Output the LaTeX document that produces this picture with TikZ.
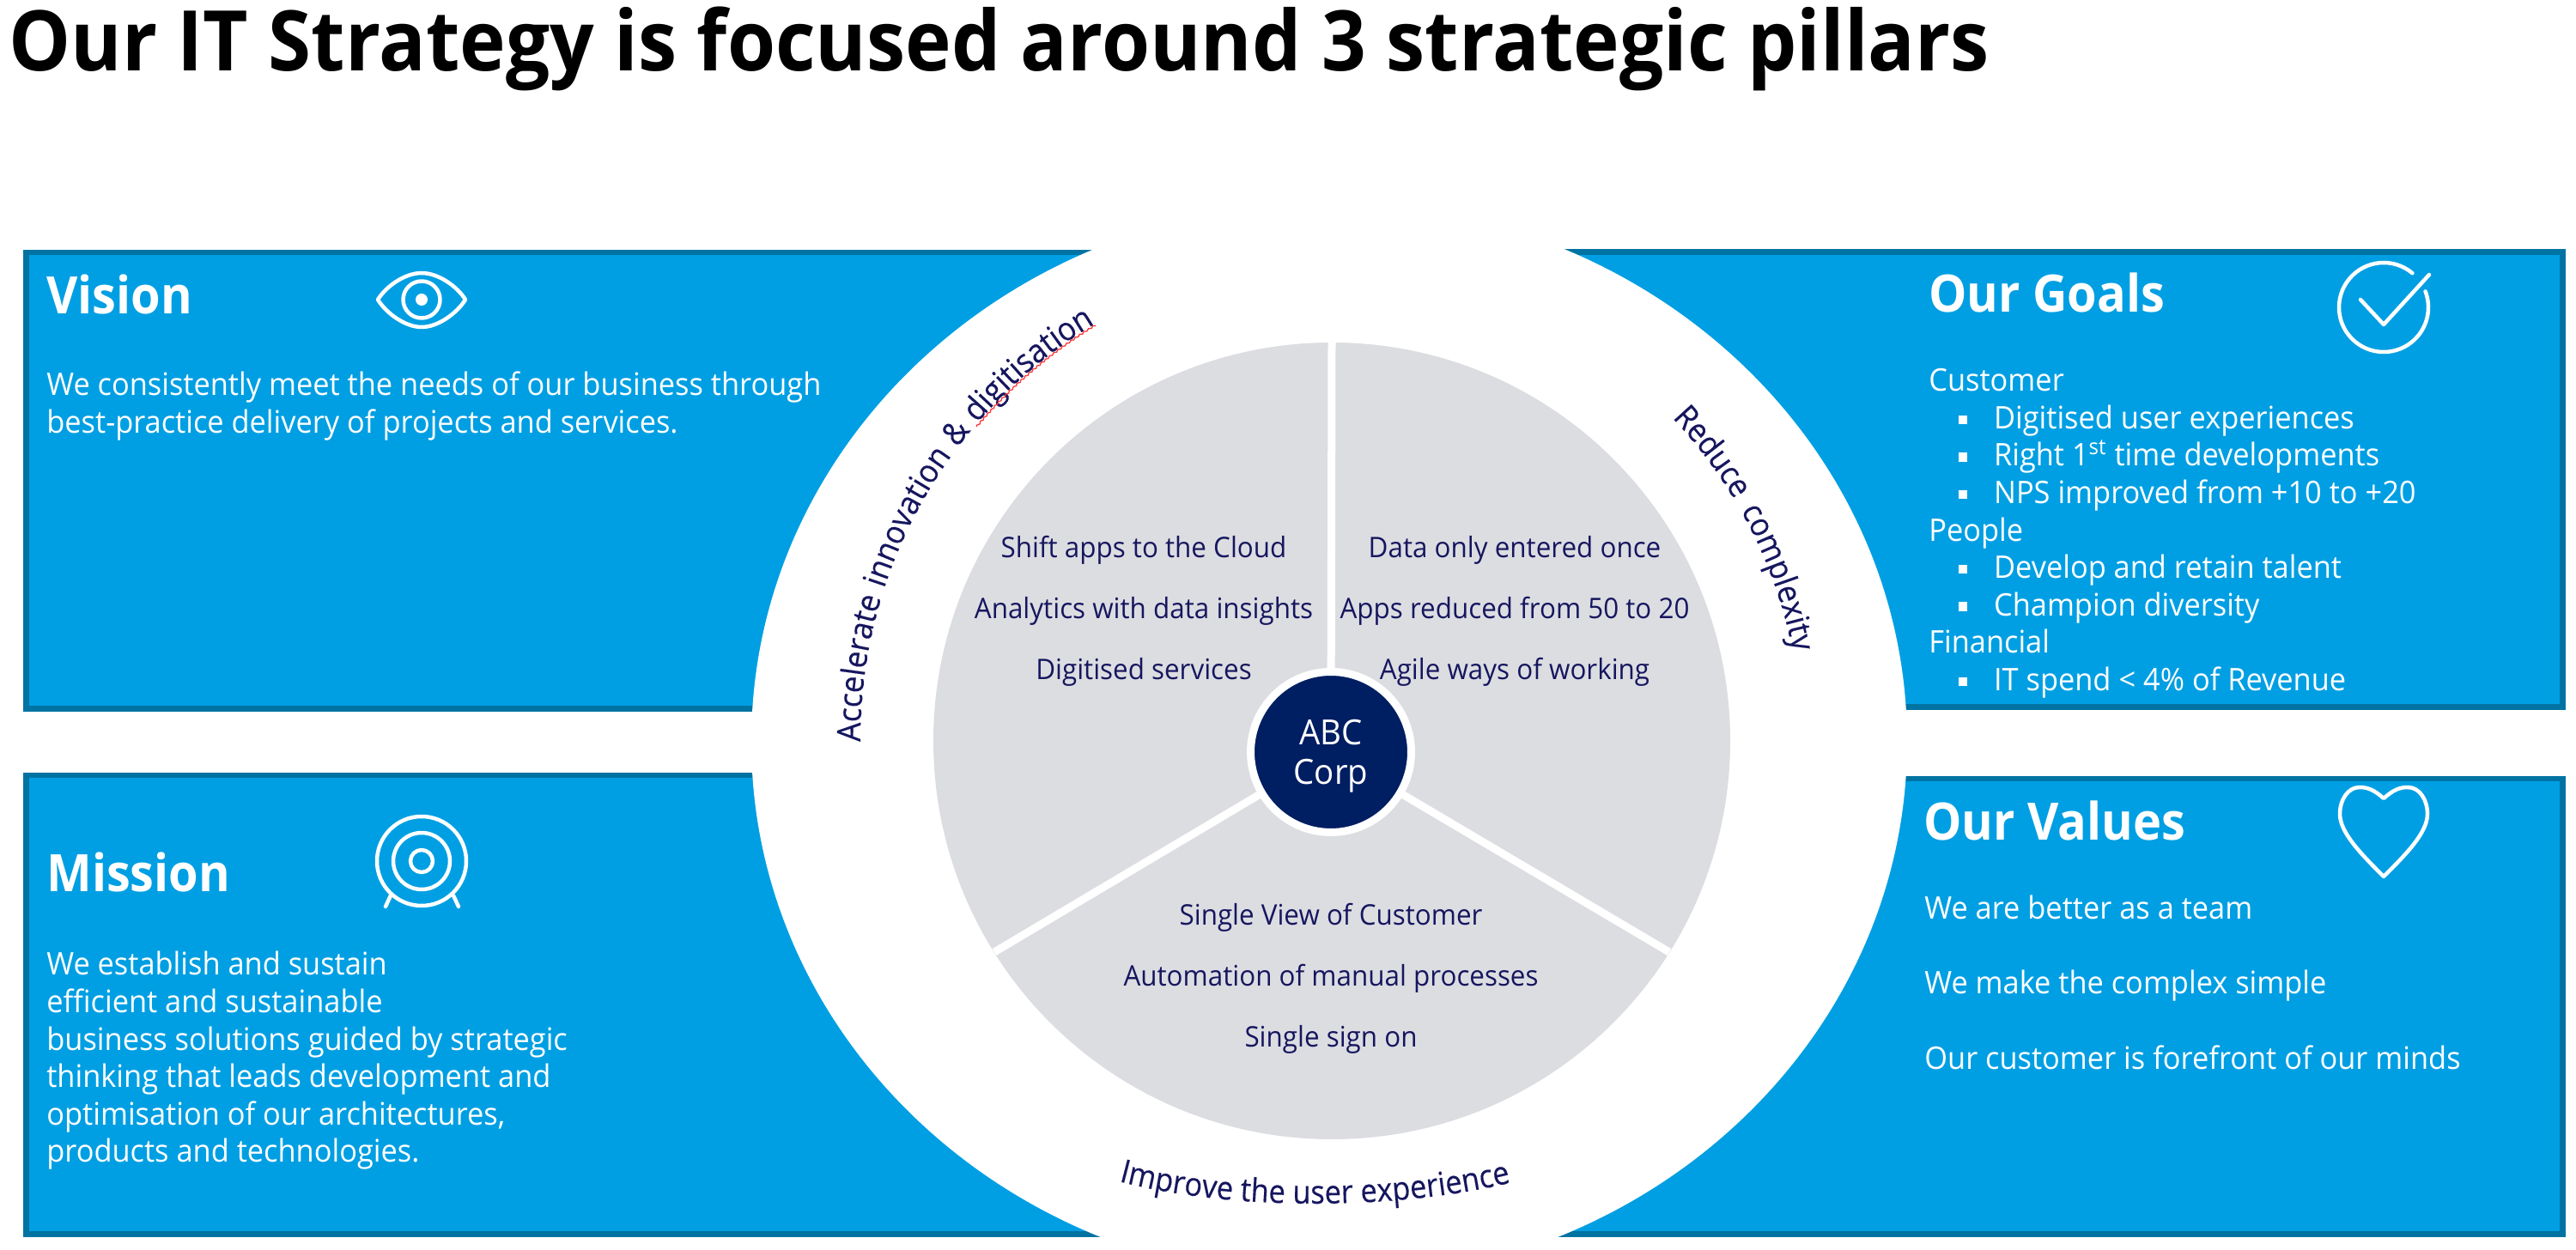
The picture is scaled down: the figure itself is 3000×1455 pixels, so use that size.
\documentclass[tikz,border=0pt]{standalone}
\usepackage{fontspec}
\usetikzlibrary{decorations.text,decorations.pathmorphing}
\setmainfont{Open Sans}
\newfontfamily\bodyf[FakeStretch=0.95]{Open Sans}
\newfontfamily\headf[FakeStretch=0.93]{Open Sans}
\newfontfamily\arcA[FakeStretch=0.93,FakeBold=0.3]{Open Sans}
\newfontfamily\arcB[FakeStretch=0.92,FakeBold=0.3]{Open Sans}
\newfontfamily\arcC[FakeStretch=0.91,FakeBold=0.3]{Open Sans}
\definecolor{boxblue}{HTML}{009FE3}
\definecolor{boxedge}{HTML}{0073A3}
\definecolor{piegrey}{HTML}{DCDDE1}
\definecolor{hubnavy}{HTML}{001E62}
\definecolor{inknavy}{HTML}{16165F}
\newcommand{\sqb}{\hspace*{19.8pt}\raisebox{3pt}{\rule{5.7pt}{6pt}}\hspace*{17.6pt}}
\tikzset{
  panel/.style={fill=boxblue,draw=boxedge,line width=0.13cm},
  icon/.style={draw=white,line width=0.09cm,line cap=round,line join=round},
  bodytext/.style={inner sep=0pt,anchor=north west,align=left,text=white,font=\bodyf\fontsize{20.6}{24.8}\selectfont},
  headtext/.style={inner sep=0pt,anchor=base west,text=white,font=\headf\bfseries\fontsize{34.2}{38}\selectfont},
  pietext/.style={inner sep=0pt,anchor=north,align=center,text=inknavy,font=\bodyf\fontsize{18.8}{40.6}\selectfont},
  divider/.style={draw=white,line width=0.18cm},
  arclabel/.style 2 args={decorate,decoration={text along path,text align={fit to path stretching spaces},
     text={|#1\fontsize{21.5}{24}\selectfont\color{inknavy}|#2}}}
}
\begin{document}
\begin{tikzpicture}[x=0.02cm,y=0.02cm]
\clip (0,0) rectangle (3000,1455);
\fill[white] (0,0) rectangle (3000,1455);
% panels
\draw[panel] (30.5,1161) rectangle (1500,629.5);
\draw[panel] (1600,1161.5) rectangle (2984.5,631.5);
\draw[panel] (30.5,552) rectangle (1500,17.5);
\draw[panel] (1600,548) rectangle (2984.5,17.5);
% central disc
\fill[white] (1548,591) ellipse [x radius=673,y radius=628];
\fill[piegrey] (1551,592) circle (464);
\node[circle,minimum size=3.74cm,inner sep=0pt,fill=hubnavy,draw=white,line width=0.18cm,text=white,align=center,
      font=\bodyf\fontsize{23}{26}\selectfont] (hub) at (1550,579) {\rule{0pt}{22pt}ABC\\Corp};
\coordinate (dtop) at (1551,1056);
\coordinate (dleft) at (1158,346);
\coordinate (dright) at (1944,346);
\draw[divider] (dtop) -- (hub);
\draw[divider] (dleft) -- (hub);
\draw[divider] (dright) -- (hub);
% title
\node[inner sep=0pt,anchor=base west,text=black,font=\headf\bfseries\fontsize{55.5}{60}\selectfont] (title) at (10,1372)
  {Our IT Strategy is focused around 3 strategic pillars};
% headings
\node[headtext] (vision) at (54,1089) {Vision};
\node[headtext] (mission) at (54,417) {Mission};
\node[headtext] (goals) at (2246,1091) {Our Goals};
\node[headtext] (values) at (2240,476) {Our Values};
% bodies
\node[bodytext] (visiontext) at (54,1025) {\strut We consistently meet the needs of our business through\\best-practice delivery of projects and services.};
\node[bodytext] (missiontext) at (54,350) {\strut We establish and sustain\\efficient and sustainable\\business solutions guided by strategic\\thinking that leads development and\\optimisation of our architectures,\\products and technologies.};
\node[bodytext] (goalstext) at (2246,1030) {\strut Customer\\
\sqb Digitised user experiences\\
\sqb Right 1\textsuperscript{st} time developments\\
\sqb NPS improved from +10 to +20\\
People\\
\sqb Develop and retain talent\\
\sqb Champion diversity\\
Financial\\
\sqb IT spend < 4\% of Revenue};
\node[bodytext] (valuestext) at (2241,415) {\strut We are better as a team\\[24.8pt]We make the complex simple\\[24.8pt]Our customer is forefront of our minds};
% pie texts
\node[pietext] (pieleft) at (1332,856) {\strut Shift apps to the Cloud\\Analytics with data insights\\Digitised services};
\node[pietext] (pieright) at (1764,856) {\strut Data only entered once\\Apps reduced from 50 to 20\\Agile ways of working};
\node[pietext] (piebottom) at (1550,428) {\strut Single View of Customer\\Automation of manual processes\\Single sign on};
% curved labels
\path[arclabel={\arcA}{Accelerate innovation {\&} digitisation}] (1565,595) ++(180.4:563) arc[start angle=180.4,end angle=121,radius=563];
\draw[red!80!white,line width=0.025cm,decorate,decoration={snake,amplitude=0.5pt,segment length=3.5pt}] (1565,595) ++(139.7:561) arc[start angle=139.7,end angle=121,radius=561];
\path[arclabel={\arcB}{Reduce complexity}] (1550,591) ++(43.5:548) arc[start angle=43.5,end angle=11,radius=548];
\path[arclabel={\arcC}{Improve the user experience}] (1303,79) .. controls (1430,45) and (1620,45) .. (1753,76);
% eye icon
\draw[icon] (440,1106) .. controls (450,1122) and (472,1137) .. (491,1137) .. controls (510,1137) and (532,1122) .. (542,1106) .. controls (532,1090) and (510,1074) .. (491,1074) .. controls (472,1074) and (450,1090) .. cycle;
\draw[icon] (491,1106) circle (21.5);
\fill[white] (491,1106) circle (7);
% target icon
\draw[icon] (491,452) circle (52);
\draw[icon] (491,452) circle (33);
\draw[icon] (491,452) circle (13);
\draw[icon] (455,412) -- (449,399);
\draw[icon] (528,412) -- (534,399);
% tick icon
\draw[icon] (2776,1097) ++(50:52) arc[start angle=50,end angle=381,radius=52];
\draw[icon] (2749,1106) -- (2776,1077) -- (2829,1135);
% heart icon
\draw[icon] (2776,525) .. controls (2765,535) and (2757,538) .. (2748,538)
  .. controls (2734,538) and (2725,523) .. (2725,507)
  .. controls (2725,485) and (2750,460) .. (2776,434)
  .. controls (2802,460) and (2827,485) .. (2827,507)
  .. controls (2827,523) and (2818,538) .. (2804,538)
  .. controls (2795,538) and (2787,535) .. cycle;
\end{tikzpicture}
\end{document}
